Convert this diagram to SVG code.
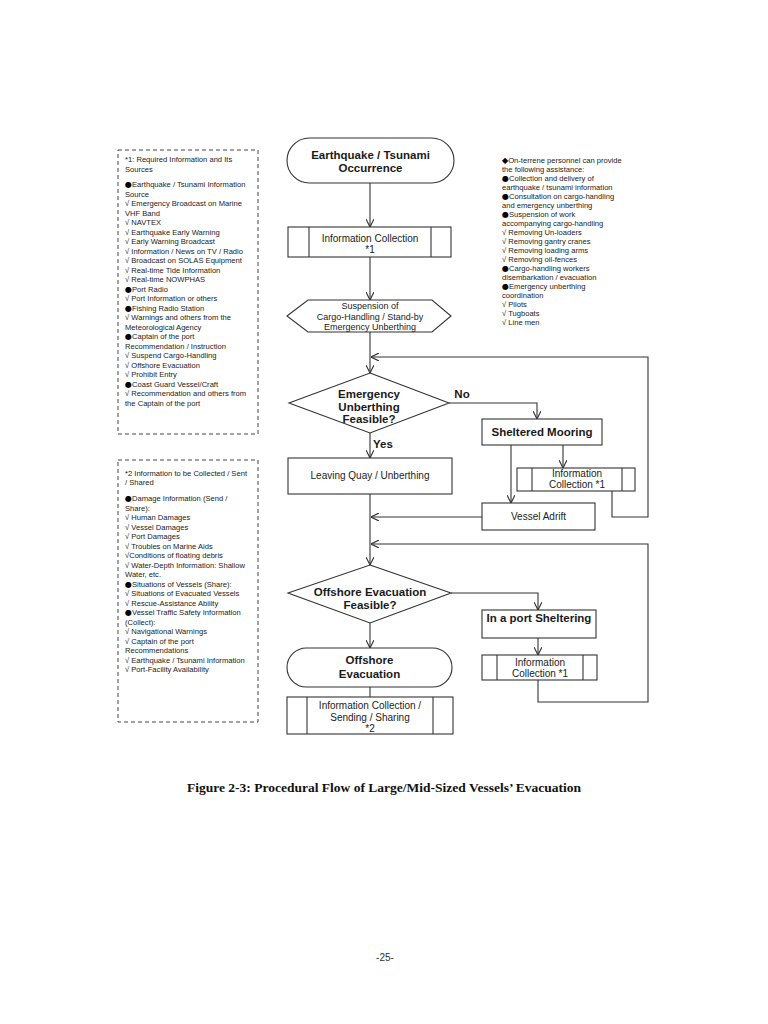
<svg xmlns="http://www.w3.org/2000/svg" width="768" height="1024" viewBox="0 0 768 1024">
<style>
.node{fill:#fff;stroke:#333;stroke-width:1.1}
.sep{stroke:#333;stroke-width:1.1}
.conn{fill:none;stroke:#333;stroke-width:1.1}
.b{font-family:"Liberation Sans",Arial,sans-serif;font-weight:bold;font-size:11.5px;fill:#1a1a1a;text-anchor:middle}
.n{font-family:"Liberation Sans",Arial,sans-serif;font-size:10px;fill:#222;text-anchor:middle}
.s{font-family:"Liberation Sans",Arial,sans-serif;font-size:9px;fill:#222;text-anchor:middle}
.note{font-family:"Liberation Sans",Arial,sans-serif;font-size:7.6px;fill:#222}
.bul{font-family:"DejaVu Sans",sans-serif;font-size:8px;fill:#000}
.dash{fill:none;stroke:#444;stroke-width:1;stroke-dasharray:4 3}
.cap{font-family:"Liberation Serif","Times New Roman",serif;font-weight:bold;font-size:13.5px;fill:#111;text-anchor:middle}
</style>
<defs>
<marker id="arr" viewBox="0 0 10 10" refX="10" refY="5" markerWidth="8" markerHeight="8" markerUnits="userSpaceOnUse" orient="auto">
<path d="M0,0 L10,5 L0,10" fill="none" stroke="#333" stroke-width="1.4"/>
</marker>
</defs>
<rect width="768" height="1024" fill="#fff"/>

<g id="note1">
<rect class="dash" x="118" y="150" width="140" height="284"/>
<text class="note">
<tspan x="125" y="162">*1: Required Information and Its</tspan>
<tspan x="125" y="171.5">Sources</tspan>
<tspan x="125" y="187"><tspan class="bul">●</tspan>Earthquake / Tsunami Information</tspan>
<tspan x="125" y="196.5">Source</tspan>
<tspan x="125" y="206">√ Emergency Broadcast on Marine</tspan>
<tspan x="125" y="215.5">VHF Band</tspan>
<tspan x="125" y="225">√ NAVTEX</tspan>
<tspan x="125" y="234.5">√ Earthquake Early Warning</tspan>
<tspan x="125" y="244">√ Early Warning Broadcast</tspan>
<tspan x="125" y="253.5">√ Information / News on TV / Radio</tspan>
<tspan x="125" y="263">√ Broadcast on SOLAS Equipment</tspan>
<tspan x="125" y="272.5">√ Real-time Tide Information</tspan>
<tspan x="125" y="282">√ Real-time NOWPHAS</tspan>
<tspan x="125" y="291.5"><tspan class="bul">●</tspan>Port Radio</tspan>
<tspan x="125" y="301">√ Port Information or others</tspan>
<tspan x="125" y="310.5"><tspan class="bul">●</tspan>Fishing Radio Station</tspan>
<tspan x="125" y="320">√ Warnings and others from the</tspan>
<tspan x="125" y="329.5">Meteorological Agency</tspan>
<tspan x="125" y="339"><tspan class="bul">●</tspan>Captain of the port</tspan>
<tspan x="125" y="348.5">Recommendation / Instruction</tspan>
<tspan x="125" y="358">√ Suspend Cargo-Handling</tspan>
<tspan x="125" y="367.5">√ Offshore Evacuation</tspan>
<tspan x="125" y="377">√ Prohibit Entry</tspan>
<tspan x="125" y="386.5"><tspan class="bul">●</tspan>Coast Guard Vessel/Craft</tspan>
<tspan x="125" y="396">√ Recommendation and others from</tspan>
<tspan x="125" y="405.5">the Captain of the port</tspan>
</text>
</g>

<g id="note2">
<rect class="dash" x="118" y="460" width="140" height="262"/>
<text class="note">
<tspan x="125" y="476">*2 Information to be Collected / Sent</tspan>
<tspan x="125" y="485">/ Shared</tspan>
<tspan x="125" y="501"><tspan class="bul">●</tspan>Damage Information (Send /</tspan>
<tspan x="125" y="510.5">Share):</tspan>
<tspan x="125" y="520">√ Human Damages</tspan>
<tspan x="125" y="529.5">√ Vessel Damages</tspan>
<tspan x="125" y="539">√ Port Damages</tspan>
<tspan x="125" y="548.5">√ Troubles on Marine Aids</tspan>
<tspan x="125" y="558">√Conditions of floating debris</tspan>
<tspan x="125" y="567.5">√ Water-Depth Information: Shallow</tspan>
<tspan x="125" y="577">Water, etc.</tspan>
<tspan x="125" y="586.5"><tspan class="bul">●</tspan>Situations of Vessels (Share):</tspan>
<tspan x="125" y="596">√ Situations of Evacuated Vessels</tspan>
<tspan x="125" y="605.5">√ Rescue-Assistance Ability</tspan>
<tspan x="125" y="615"><tspan class="bul">●</tspan>Vessel Traffic Safety Information</tspan>
<tspan x="125" y="624.5">(Collect):</tspan>
<tspan x="125" y="634">√ Navigational Warnings</tspan>
<tspan x="125" y="643.5">√ Captain of the port</tspan>
<tspan x="125" y="653">Recommendations</tspan>
<tspan x="125" y="662.5">√ Earthquake / Tsunami Information</tspan>
<tspan x="125" y="672">√ Port-Facility Availability</tspan>
</text>
</g>

<g id="note3">
<text class="note">
<tspan x="502" y="163"><tspan class="bul">◆</tspan>On-terrene personnel can provide</tspan>
<tspan x="502" y="172">the following assistance:</tspan>
<tspan x="502" y="181"><tspan class="bul">●</tspan>Collection and delivery of</tspan>
<tspan x="502" y="190">earthquake / tsunami information</tspan>
<tspan x="502" y="199"><tspan class="bul">●</tspan>Consultation on cargo-handling</tspan>
<tspan x="502" y="208">and emergency unberthing</tspan>
<tspan x="502" y="217"><tspan class="bul">●</tspan>Suspension of work</tspan>
<tspan x="502" y="226">accompanying cargo-handling</tspan>
<tspan x="502" y="235">√ Removing Un-loaders</tspan>
<tspan x="502" y="244">√ Removing gantry cranes</tspan>
<tspan x="502" y="253">√ Removing loading arms</tspan>
<tspan x="502" y="262">√ Removing oil-fences</tspan>
<tspan x="502" y="271"><tspan class="bul">●</tspan>Cargo-handling workers</tspan>
<tspan x="502" y="280">disembarkation / evacuation</tspan>
<tspan x="502" y="289"><tspan class="bul">●</tspan>Emergency unberthing</tspan>
<tspan x="502" y="298">coordination</tspan>
<tspan x="502" y="307">√ Pilots</tspan>
<tspan x="502" y="316">√ Tugboats</tspan>
<tspan x="502" y="325">√ Line men</tspan>
</text>
</g>

<g id="connectors">
<line class="conn" x1="370" y1="183" x2="370" y2="227" marker-end="url(#arr)"/>
<line class="conn" x1="370" y1="257" x2="370" y2="300" marker-end="url(#arr)"/>
<line class="conn" x1="370" y1="332" x2="370" y2="373" marker-end="url(#arr)"/>
<polyline class="conn" points="612,491 612,517 648,517 648,357 371,357" marker-end="url(#arr)"/>
<polyline class="conn" points="449,403 537,403 537,419" marker-end="url(#arr)"/>
<line class="conn" x1="370" y1="433" x2="370" y2="458" marker-end="url(#arr)"/>
<line class="conn" x1="511" y1="445" x2="511" y2="503" marker-end="url(#arr)"/>
<line class="conn" x1="563" y1="445" x2="563" y2="468" marker-end="url(#arr)"/>
<line class="conn" x1="482" y1="517" x2="371" y2="517" marker-end="url(#arr)"/>
<line class="conn" x1="370" y1="494" x2="370" y2="565" marker-end="url(#arr)"/>
<polyline class="conn" points="538,680 538,702 648,702 648,544 371,544" marker-end="url(#arr)"/>
<polyline class="conn" points="451,593 538,593 538,610" marker-end="url(#arr)"/>
<line class="conn" x1="538" y1="638" x2="538" y2="655" marker-end="url(#arr)"/>
<line class="conn" x1="370" y1="623" x2="370" y2="648" marker-end="url(#arr)"/>
<line class="conn" x1="370" y1="687" x2="370" y2="697"/>
<text class="b" x="462" y="398" text-anchor="start">No</text>
<text class="b" x="383" y="448" text-anchor="start">Yes</text>
</g>

<g id="start">
<rect class="node" x="287" y="138" width="167" height="45" rx="22.5"/>
<text class="b" x="370.5" y="159">Earthquake / Tsunami</text>
<text class="b" x="370.5" y="172">Occurrence</text>
</g>

<g id="info1">
<rect class="node" x="288" y="227" width="163" height="30"/>
<line class="sep" x1="309" y1="227" x2="309" y2="257"/>
<line class="sep" x1="431" y1="227" x2="431" y2="257"/>
<text class="n" x="370" y="242">Information Collection</text>
<text class="n" x="370" y="253">*1</text>
</g>

<g id="suspend">
<polygon class="node" points="287,316 308,300 432,300 451,316 432,332 308,332"/>
<text class="s" x="370" y="309">Suspension of</text>
<text class="s" x="370" y="319.5">Cargo-Handling / Stand-by</text>
<text class="s" x="370" y="330">Emergency Unberthing</text>
</g>

<g id="unberth-decision">
<polygon class="node" points="370,373 449,403 370,433 289,403"/>
<text class="b" x="369" y="398">Emergency</text>
<text class="b" x="369" y="411">Unberthing</text>
<text class="b" x="369" y="423">Feasible?</text>
</g>

<g id="sheltered">
<rect class="node" x="482" y="419" width="120" height="26"/>
<text class="b" x="542" y="436">Sheltered Mooring</text>
</g>

<g id="info2">
<rect class="node" x="517" y="468" width="118" height="23"/>
<line class="sep" x1="532" y1="468" x2="532" y2="491"/>
<line class="sep" x1="622" y1="468" x2="622" y2="491"/>
<text class="n" x="577" y="477">Information</text>
<text class="n" x="577" y="488">Collection *1</text>
</g>

<g id="leaving">
<rect class="node" x="288" y="458" width="164" height="36"/>
<text class="n" x="370" y="479">Leaving Quay / Unberthing</text>
</g>

<g id="adrift">
<rect class="node" x="482" y="503" width="113" height="27"/>
<text class="n" x="538.5" y="520">Vessel Adrift</text>
</g>

<g id="offshore-decision">
<polygon class="node" points="370,565 451,593 370,623 288,593"/>
<text class="b" x="370" y="596">Offshore Evacuation</text>
<text class="b" x="370" y="609">Feasible?</text>
</g>

<g id="port-sheltering">
<rect class="node" x="482" y="610" width="114" height="28"/>
<text class="b" x="539" y="622">In a port Sheltering</text>
</g>

<g id="info3">
<rect class="node" x="482" y="655" width="115" height="25"/>
<line class="sep" x1="497" y1="655" x2="497" y2="680"/>
<line class="sep" x1="583" y1="655" x2="583" y2="680"/>
<text class="n" x="540" y="665.5">Information</text>
<text class="n" x="540" y="677">Collection *1</text>
</g>

<g id="offshore-evac">
<rect class="node" x="287" y="648" width="165" height="39" rx="19.5"/>
<text class="b" x="369.5" y="664">Offshore</text>
<text class="b" x="369.5" y="678">Evacuation</text>
</g>

<g id="info4">
<rect class="node" x="287" y="697" width="166" height="37"/>
<line class="sep" x1="307" y1="697" x2="307" y2="734"/>
<line class="sep" x1="433" y1="697" x2="433" y2="734"/>
<text class="n" x="370" y="709">Information Collection /</text>
<text class="n" x="370" y="721">Sending / Sharing</text>
<text class="n" x="370" y="732">*2</text>
</g>

<text class="cap" x="384" y="792">Figure 2-3: Procedural Flow of Large/Mid-Sized Vessels’ Evacuation</text>
<text x="385" y="961" font-family="'Liberation Sans',Arial,sans-serif" font-size="10" fill="#333" text-anchor="middle">-25-</text>
</svg>
